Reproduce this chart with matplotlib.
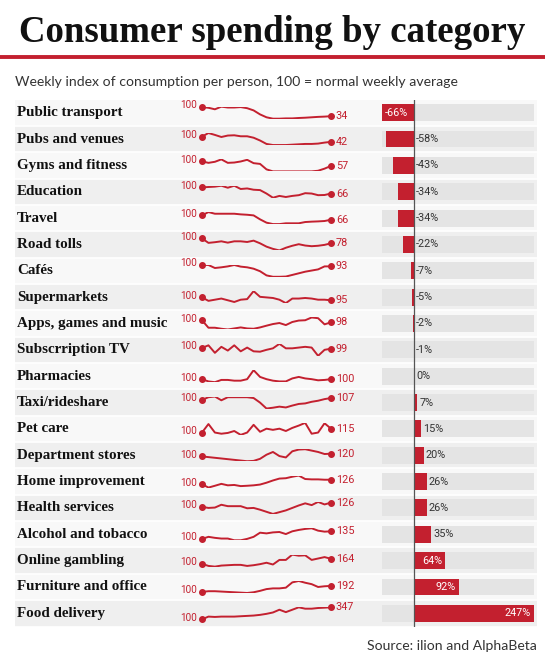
import numpy as np
import matplotlib
matplotlib.use('Agg')
import matplotlib.pyplot as plt

# Categories, top to bottom, and change vs normal (%)
categories = ['Public transport', 'Pubs and venues', 'Gyms and fitness', 'Education',
              'Travel', 'Road tolls', 'Cafés', 'Supermarkets', 'Apps, games and music',
              'Subscrription TV', 'Pharmacies', 'Taxi/rideshare', 'Pet care',
              'Department stores', 'Home improvement', 'Health services',
              'Alcohol and tobacco', 'Online gambling', 'Furniture and office', 'Food delivery']
changes = [-66, -58, -43, -34, -34, -22, -7, -5, -2, -1, 0, 7, 15, 20, 26, 26, 35, 64, 92, 247]

# Weekly index values (100 = normal)
public_transport = [100, 95, 84, 103, 97, 97, 100, 92, 76, 47, 26, 16, 16, 18, 18, 21, 23, 26, 29, 31, 34]
pubs_venues = [100, 140, 119, 96, 112, 115, 104, 104, 88, 57, 19, 7, 7, 7, 11, 15, 19, 19, 23, 34, 42]
gyms_fitness = [100, 86, 96, 119, 86, 89, 99, 115, 83, 76, 24, 5, 5, 5, 5, 5, 5, 5, 11, 31, 57]
education = [100, 102, 104, 109, 98, 109, 91, 94, 87, 85, 66, 43, 53, 47, 53, 57, 68, 66, 57, 58, 66]
travel = [100, 126, 113, 113, 113, 113, 108, 105, 100, 69, 43, 32, 32, 38, 38, 38, 48, 51, 53, 56, 66]
road_tolls = [100, 80, 83, 87, 81, 87, 87, 84, 90, 78, 63, 53, 46, 58, 67, 74, 68, 65, 67, 71, 78]
cafes = [100, 99, 86, 89, 93, 99, 92, 89, 83, 72, 54, 48, 48, 49, 56, 63, 70, 75, 80, 93, 93]
supermarkets = [100, 94, 96, 98, 95, 92, 96, 97, 111, 101, 100, 99, 96, 90, 98, 98, 99, 98, 96, 96, 95]
apps_games = [100, 92.7, 92.7, 91.7, 91, 92, 93, 92, 91.7, 93, 94.7, 96.3, 97.3, 95.3, 98.3, 99.7,
              100, 102.7, 102, 96, 98]
subscription_tv = [100, 103.5, 93.5, 101.5, 96.5, 103.5, 95.5, 100.5, 95.5, 95, 97.5, 99.5, 105.5,
                   99.5, 99.5, 100.5, 101.5, 100.5, 89.5, 97.5, 99]
pharmacies = [100, 94, 92, 98, 98, 96, 96, 100, 124, 106, 100, 96, 94, 94, 102, 106, 102, 100, 97, 98, 100]
taxi_rideshare = [100, 110, 112.6, 98.6, 110, 110, 110, 110, 107, 90, 68, 71, 75, 72, 79, 85, 87, 93, 97, 103, 107]
pet_care = [100, 133, 100, 95.5, 98.5, 106, 91, 100, 130, 103, 115, 110.5, 115, 106, 118, 127, 137.5,
            95.5, 100, 136, 115]
department_stores = [100, 95, 90, 85, 80, 75, 70, 65, 67.5, 82.5, 112.5, 132.5, 102.5, 92.5, 137.5,
                     150, 152.5, 142.5, 132.5, 117.5, 120]
home_improvement = [100, 80.5, 91, 102, 93.5, 95.7, 89, 91, 93.5, 98, 108.7, 121.7, 132.6, 134.7,
                    143.4, 150, 130, 128, 128, 126, 126]
health_services = [100, 93.5, 95.7, 113, 104.3, 104.3, 104.3, 91.3, 93.5, 82.6, 69.6, 56.6, 67.4,
                   78.3, 93.5, 108.7, 121.7, 110.8, 130.4, 115, 126]
alcohol_tobacco = [100, 109.5, 104.8, 101.6, 101.6, 93.6, 93.6, 100, 109.5, 128.6, 125.4, 130, 131.8,
                   122.3, 135, 141.3, 146, 149, 138, 133.4, 135]
online_gambling = [100, 73, 64, 77.5, 82, 86.5, 86.5, 73, 82, 95.5, 113.5, 91, 149.5, 149.5, 217,
                   203.5, 208, 149.5, 167.5, 185.5, 164]
furniture_office = [100, 110.8, 110.8, 105.4, 100, 94.6, 89.2, 83.8, 94.6, 116.2, 143.2, 154, 154,
                    164.8, 245.8, 267.4, 240.4, 218.8, 175.6, 186.4, 192]
food_delivery = [100, 156, 149, 156, 156, 156, 163.5, 170.6, 177.7, 191.8, 213, 241, 297.7, 248,
                 297.7, 347, 319, 319, 333, 340, 347]

series = [public_transport, pubs_venues, gyms_fitness, education, travel, road_tolls, cafes,
          supermarkets, apps_games, subscription_tv, pharmacies, taxi_rideshare, pet_care,
          department_stores, home_improvement, health_services, alcohol_tobacco,
          online_gambling, furniture_office, food_delivery]

RED = '#c3202f'
W, H = 545, 660
n = len(categories)

fig = plt.figure(figsize=(W / 100, H / 100), dpi=100)
fig.patch.set_facecolor('white')

# Title, scaled to fit the width
title = fig.text(0.5, 1 - 42 / H, 'Consumer spending by category', ha='center', va='baseline',
                 family='Liberation Serif', weight='bold', fontsize=26, color='#111111')
fig.canvas.draw()
tw = title.get_window_extent().width
title.set_fontsize(26 * 507 / tw)

# red rule under title
fig.add_artist(plt.Line2D([0, 1], [1 - 57 / H, 1 - 57 / H], color=RED, lw=2.8,
                          transform=fig.transFigure))

fig.text(15 / W, 1 - 82 / H, 'Weekly index of consumption per person, 100 = normal weekly average',
         ha='left', va='center', family='Lato', fontsize=10.1, color='#333333')
fig.text(537 / W, 1 - 646 / H, 'Source: ilion and AlphaBeta', ha='right', va='center',
         family='Lato', fontsize=10.1, color='#333333')

# Row panel (stripes + category labels)
top_px, row_h = 99.5, 26.35
bottom_px = top_px + row_h * n
ax_rows = fig.add_axes([15 / W, 1 - bottom_px / H, (537 - 15) / W, (bottom_px - top_px) / H])
ax_rows.set_xlim(0, 1)
ax_rows.set_ylim(n - 0.5, -0.5)
ax_rows.axis('off')
for i, name in enumerate(categories):
    ax_rows.axhspan(i - 0.5, i + 0.5, color='#f8f8f8' if i % 2 == 0 else '#efefef', lw=0)
    ax_rows.axhline(i + 0.5, color='white', lw=1.2)
    ax_rows.text(0.004, i, name, ha='left', va='center', family='Liberation Serif',
                 weight='bold', fontsize=10.8, color='#111111')

# Sparklines, one small axes per row
x0_px, x1_px, spark_h = 202, 331, 12
for i, vals in enumerate(series):
    yc = top_px + row_h * (i + 0.5)
    ax_s = fig.add_axes([x0_px / W, 1 - (yc + spark_h / 2) / H, (x1_px - x0_px) / W, spark_h / H])
    ax_s.patch.set_alpha(0)
    ax_s.axis('off')
    x = np.arange(len(vals))
    ax_s.plot(x, vals, color=RED, lw=1.4, solid_joinstyle='round')
    ax_s.plot([x[0], x[-1]], [vals[0], vals[-1]], 'o', color=RED, ms=4, clip_on=False)
    ax_s.set_xlim(x[0], x[-1])
    ax_s.set_ylim(min(vals), max(vals))
    ax_s.annotate('100', xy=(x[0], vals[0]), xytext=(-3.5, 1.2), textcoords='offset points',
                  ha='right', va='center', family='Roboto', fontsize=7.2, color=RED,
                  annotation_clip=False)
    ax_s.annotate(f'{vals[-1]:.0f}', xy=(x[-1], vals[-1]), xytext=(3.5, 0), textcoords='offset points',
                  ha='left', va='center', family='Roboto', fontsize=7.8, color=RED,
                  annotation_clip=False)

# Change bars
ax_bar = fig.add_axes([382 / W, 1 - bottom_px / H, (534 - 382) / W, (bottom_px - top_px) / H])
ax_bar.patch.set_alpha(0)
ax_bar.set_xlim(-66, 247)
ax_bar.set_ylim(n - 0.5, -0.5)
ax_bar.axis('off')
ypos = np.arange(n)
ax_bar.barh(ypos, 313, left=-66, height=0.64, color='#e4e4e4', lw=0)
ax_bar.barh(ypos, changes, height=0.64, color=RED, lw=0)
ax_bar.axvline(0, color='#555555', lw=0.9)
for i, v in enumerate(changes):
    lab = f'{v}%'
    if v <= -60:
        ax_bar.annotate(lab, xy=(v, i), xytext=(2, 0), textcoords='offset points', ha='left',
                        va='center', family='Roboto', fontsize=7.8, color='white')
    elif v >= 60:
        ax_bar.annotate(lab, xy=(v, i), xytext=(-2, 0), textcoords='offset points', ha='right',
                        va='center', family='Roboto', fontsize=7.8, color='white')
    else:
        ax_bar.annotate(lab, xy=(max(v, 0), i), xytext=(1.5, 0), textcoords='offset points',
                        ha='left', va='center', family='Roboto', fontsize=7.8, color='#333333')

fig.savefig('out.png', dpi=100)
